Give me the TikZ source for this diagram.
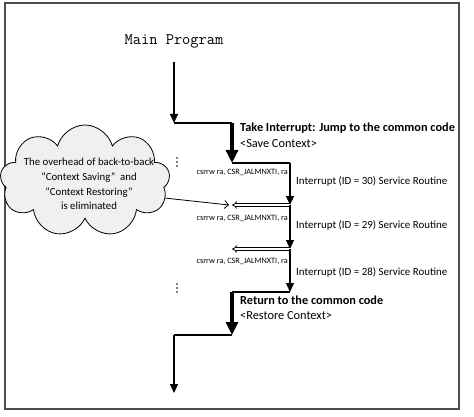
\documentclass[tikz,border=0pt]{standalone}
\usepackage{fontspec}
\setmainfont{Carlito}
\usepackage{tikz}
\usetikzlibrary{arrows.meta}
\usetikzlibrary{shapes.symbols}
\usetikzlibrary{positioning}

\tikzset{
  flow/.style={line width=1.2pt, -{Triangle[length=9pt,width=8pt]}},
  heavy/.style={line width=3.4pt, -{Triangle[length=13pt,width=12pt]}},
  hop/.style={double, double distance=1.8pt, line width=0.7pt, -{Implies}},
  note/.style={line width=0.8pt, -{Straight Barb[length=4pt,width=8pt]}},
  isr/.style={anchor=west, inner sep=0pt, font=\fontsize{10.9}{12}\selectfont},
  csr/.style={anchor=east, inner sep=0pt, font=\fontsize{8.2}{9}\selectfont},
  step_txt/.style={anchor=west, inner sep=0pt, font=\fontsize{12.3}{14}\selectfont},
  vdot/.style={circle, fill, inner sep=0pt, minimum size=1.8pt},
}

\begin{document}
\begin{tikzpicture}[x=1pt, y=-1pt]
\fill[white] (0,0) rectangle (474,417);
\useasboundingbox (0,0) rectangle (474,417);
\draw[line width=1.6pt, black!70] (5,3) rectangle (459,409);

\node[inner sep=0pt, font=\ttfamily\fontsize{16}{18}\selectfont] (main_prog) at (174,41) {Main Program};

% corners of the control flow
\path (174,62)  coordinate (main_out);
\path (174,123) coordinate (c1)  ++(58,0)  coordinate (c2)  ++(0,40) coordinate (c3)
                ++(58,0) coordinate (c4) ++(0,42) coordinate (c5) ++(0,44) coordinate (c6)
                ++(0,43) coordinate (c7) ++(-58,0) coordinate (c8) ++(0,43) coordinate (c9)
                ++(-58,0) coordinate (c10) ++(0,58) coordinate (c11);
\path (232,205) coordinate (d1);
\path (232,249) coordinate (d2);
\path (229,205) coordinate (cloud_tip);

\draw[flow] (main_out) -- (c1);
\draw[line width=1.2pt] (c1) -- (c2);
\draw[heavy] (c2) -- (c3);
\draw[line width=1.2pt] (c3) -- (c4);
\draw[flow] (c4) -- (c5);
\draw[hop] (c5) -- (d1);
\draw[flow] (c5) -- (c6);
\draw[hop] (c6) -- (d2);
\draw[flow] (c6) -- (c7);
\draw[line width=1.2pt] (c7) -- (c8);
\draw[heavy] (c8) -- (c9);
\draw[line width=1.2pt] (c9) -- (c10);
\draw[flow] (c10) -- (c11);

\node[step_txt, font=\bfseries\fontsize{12.3}{14}\selectfont] (take_int) at (240,128) {Take Interrupt: Jump to the common code};
\node[step_txt] (save_ctx) at (240,144) {<Save Context>};
\node[csr] (csr_a) at (288,172) {csrrw ra, CSR\_JALMNXTI, ra};
\node[isr] (isr_30) at (296,181) {Interrupt (ID = 30) Service Routine};
\node[csr] (csr_b) at (288,218) {csrrw ra, CSR\_JALMNXTI, ra};
\node[isr] (isr_29) at (296,225) {Interrupt (ID = 29) Service Routine};
\node[csr] (csr_c) at (288,261) {csrrw ra, CSR\_JALMNXTI, ra};
\node[isr] (isr_28) at (296,272) {Interrupt (ID = 28) Service Routine};
\node[step_txt, font=\bfseries\fontsize{12.3}{14}\selectfont] (ret_common) at (240,300) {Return to the common code};
\node[step_txt] (restore_ctx) at (240,316) {<Restore Context>};

% vertical dots
\foreach \dy in {-4,0,4} {
  \node[vdot] at (177,162+\dy) {};
  \node[vdot] at (177,288+\dy) {};
}

\node[cloud, draw, line width=0.8pt, fill=gray!12, cloud puffs=9, cloud ignores aspect,
      minimum width=170pt, minimum height=112pt, inner sep=0pt] (cloud_shape) at (85,181) {};
\node[align=center, inner sep=0pt, font=\fontsize{10.8}{14.7}\selectfont] (cloud_txt) at (89,184)
  {The overhead of back-to-back\\“Context Saving”\ \ and\\“Context Restoring”\\is eliminated};
\draw[note] (cloud_shape.-12) -- (cloud_tip);
\end{tikzpicture}
\end{document}
